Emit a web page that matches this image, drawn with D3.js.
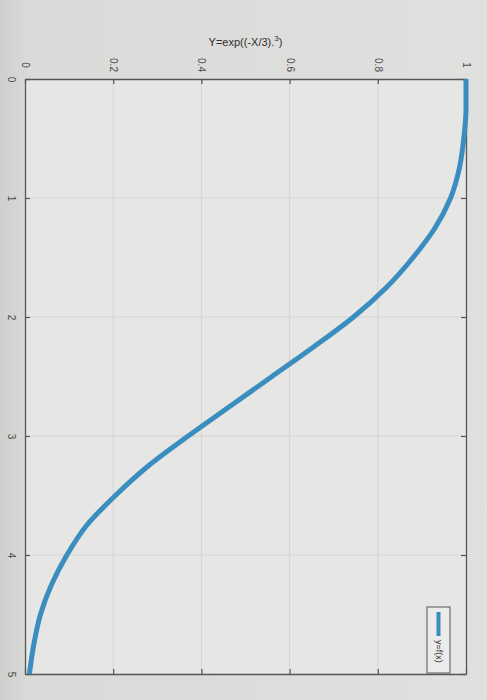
<!DOCTYPE html>
<html lang="en">
	<head>
		<meta charset="utf-8">
		<title>Y=exp((-X/3).^3)</title>
		<script type="text/javascript" src="https://cdn.jsdelivr.net/npm/d3@7"></script>
		<style type="text/css">
			body { margin: 0; background: #dcdcda; }
			text { font-family: "Liberation Sans", Arial, sans-serif; }
		</style>
	</head>
	<body>
		<script type="text/javascript">

			// page size
			var w = 487;
			var h = 700;

			var xValues = [0, 0.25, 0.5, 0.75, 1, 1.25, 1.5, 1.75, 2, 2.25, 2.5,
						   2.75, 3, 3.25, 3.5, 3.75, 4, 4.25, 4.5, 4.75, 5];
			var yValues = [1, 1, 0.995, 0.985, 0.965, 0.93, 0.88, 0.82, 0.745, 0.655, 0.56,
						   0.465, 0.37, 0.28, 0.205, 0.14, 0.095, 0.06, 0.035, 0.02, 0.01];
			var xTicks = [0, 1, 2, 3, 4, 5];
			var xTickLabels = ["0", "1", "2", "3", "4", "5"];
			var yTicks = [0, 0.2, 0.4, 0.6, 0.8, 1];
			var yTickLabels = ["0", "0.2", "0.4", "0.6", "0.8", "1"];
			var seriesName = "y=f(x)";

			// plot box on the page (figure is turned 90 deg clockwise)
			var boxLeft = 25, boxRight = 466, boxTop = 79, boxBottom = 674;

			// X runs down the page, Y runs to the right
			var xScale = d3.scaleLinear().domain([0, 5]).range([boxTop, boxBottom]);
			var yScale = d3.scaleLinear().domain([0, 1]).range([boxLeft, boxRight]);

			var svg = d3.select("body")
						.append("svg")
						.attr("width", w)
						.attr("height", h);

			// photo background, a bit darker on the left
			var grad = svg.append("defs").append("linearGradient")
				.attr("id", "bg").attr("x1", 0).attr("x2", 1).attr("y1", 0).attr("y2", 0);
			grad.append("stop").attr("offset", "0").attr("stop-color", "#cfcfcd");
			grad.append("stop").attr("offset", "0.06").attr("stop-color", "#dadad8");
			grad.append("stop").attr("offset", "1").attr("stop-color", "#e0e0de");
			svg.append("rect").attr("width", w).attr("height", h).attr("fill", "url(#bg)");

			svg.append("rect")
				.attr("x", boxLeft).attr("y", boxTop)
				.attr("width", boxRight - boxLeft).attr("height", boxBottom - boxTop)
				.attr("fill", "#e6e6e4");

			// grid
			svg.append("g").selectAll("line")
				.data(xTicks.slice(1, -1))
				.enter().append("line")
				.attr("x1", boxLeft).attr("x2", boxRight)
				.attr("y1", function(d) { return xScale(d); })
				.attr("y2", function(d) { return xScale(d); })
				.attr("stroke", "#cfcfcf").attr("stroke-width", 0.8);
			svg.append("g").selectAll("line")
				.data(yTicks.slice(1, -1))
				.enter().append("line")
				.attr("y1", boxTop).attr("y2", boxBottom)
				.attr("x1", function(d) { return yScale(d); })
				.attr("x2", function(d) { return yScale(d); })
				.attr("stroke", "#cfcfcf").attr("stroke-width", 0.8);

			// axes with inward ticks
			function styleAxis(g) {
				g.select(".domain").attr("stroke", "#555").attr("stroke-width", 1.3);
				g.selectAll(".tick line").attr("stroke", "#555").attr("stroke-width", 1.2);
				g.selectAll(".tick text")
					.attr("fill", "#4a4a4a")
					.attr("font-size", 10)
					.attr("text-anchor", "middle")
					.attr("dominant-baseline", "central")
					.attr("dy", null);
			}

			var xAxis = svg.append("g")
				.attr("transform", "translate(" + boxLeft + ",0)")
				.call(d3.axisLeft(xScale).tickValues(xTicks)
					.tickFormat(function(d, i) { return xTickLabels[i]; })
					.tickSizeInner(-5).tickSizeOuter(0));
			styleAxis(xAxis);
			xAxis.selectAll(".tick text")
				.attr("x", null)
				.attr("transform", "translate(-14,0) rotate(90)");

			var yAxis = svg.append("g")
				.attr("transform", "translate(0," + boxTop + ")")
				.call(d3.axisTop(yScale).tickValues(yTicks)
					.tickFormat(function(d, i) { return yTickLabels[i]; })
					.tickSizeInner(-5).tickSizeOuter(0));
			styleAxis(yAxis);
			yAxis.selectAll(".tick text")
				.attr("y", null)
				.attr("transform", "translate(0,-14) rotate(90)");

			var xAxis2 = svg.append("g")
				.attr("transform", "translate(" + boxRight + ",0)")
				.call(d3.axisRight(xScale).tickValues(xTicks).tickSizeInner(-5).tickSizeOuter(0).tickFormat(""));
			styleAxis(xAxis2);

			var yAxis2 = svg.append("g")
				.attr("transform", "translate(0," + boxBottom + ")")
				.call(d3.axisBottom(yScale).tickValues(yTicks).tickSizeInner(-5).tickSizeOuter(0).tickFormat(""));
			styleAxis(yAxis2);

			// axis label (ylabel, ends up horizontal after turning)
			var ylab = svg.append("text")
				.attr("x", (boxLeft + boxRight) / 2)
				.attr("y", 46)
				.attr("text-anchor", "middle")
				.attr("font-size", 11)
				.attr("fill", "#2e2e2e");
			ylab.append("tspan").text("Y=exp((-X/3).");
			ylab.append("tspan").attr("dy", -5).attr("font-size", 8).text("3");
			ylab.append("tspan").attr("dy", 5).text(")");

			// the curve
			var line = d3.line()
				.x(function(d, i) { return yScale(yValues[i]); })
				.y(function(d) { return xScale(d); })
				.curve(d3.curveMonotoneY);

			svg.append("path")
				.datum(xValues)
				.attr("d", line)
				.attr("fill", "none")
				.attr("stroke", "#3a8dbf")
				.attr("stroke-width", 5);

			// legend
			var lg = svg.append("g").attr("transform", "translate(427,607)");
			lg.append("rect")
				.attr("width", 23).attr("height", 66)
				.attr("fill", "#ebebe9").attr("stroke", "#555").attr("stroke-width", 1);
			lg.append("line")
				.attr("x1", 11.5).attr("x2", 11.5).attr("y1", 5).attr("y2", 29)
				.attr("stroke", "#3a8dbf").attr("stroke-width", 4);
			lg.append("text")
				.attr("transform", "translate(11.5,33) rotate(90)")
				.attr("dominant-baseline", "central")
				.attr("font-size", 9)
				.attr("fill", "#333")
				.text(seriesName);

		</script>
	</body>
</html>
